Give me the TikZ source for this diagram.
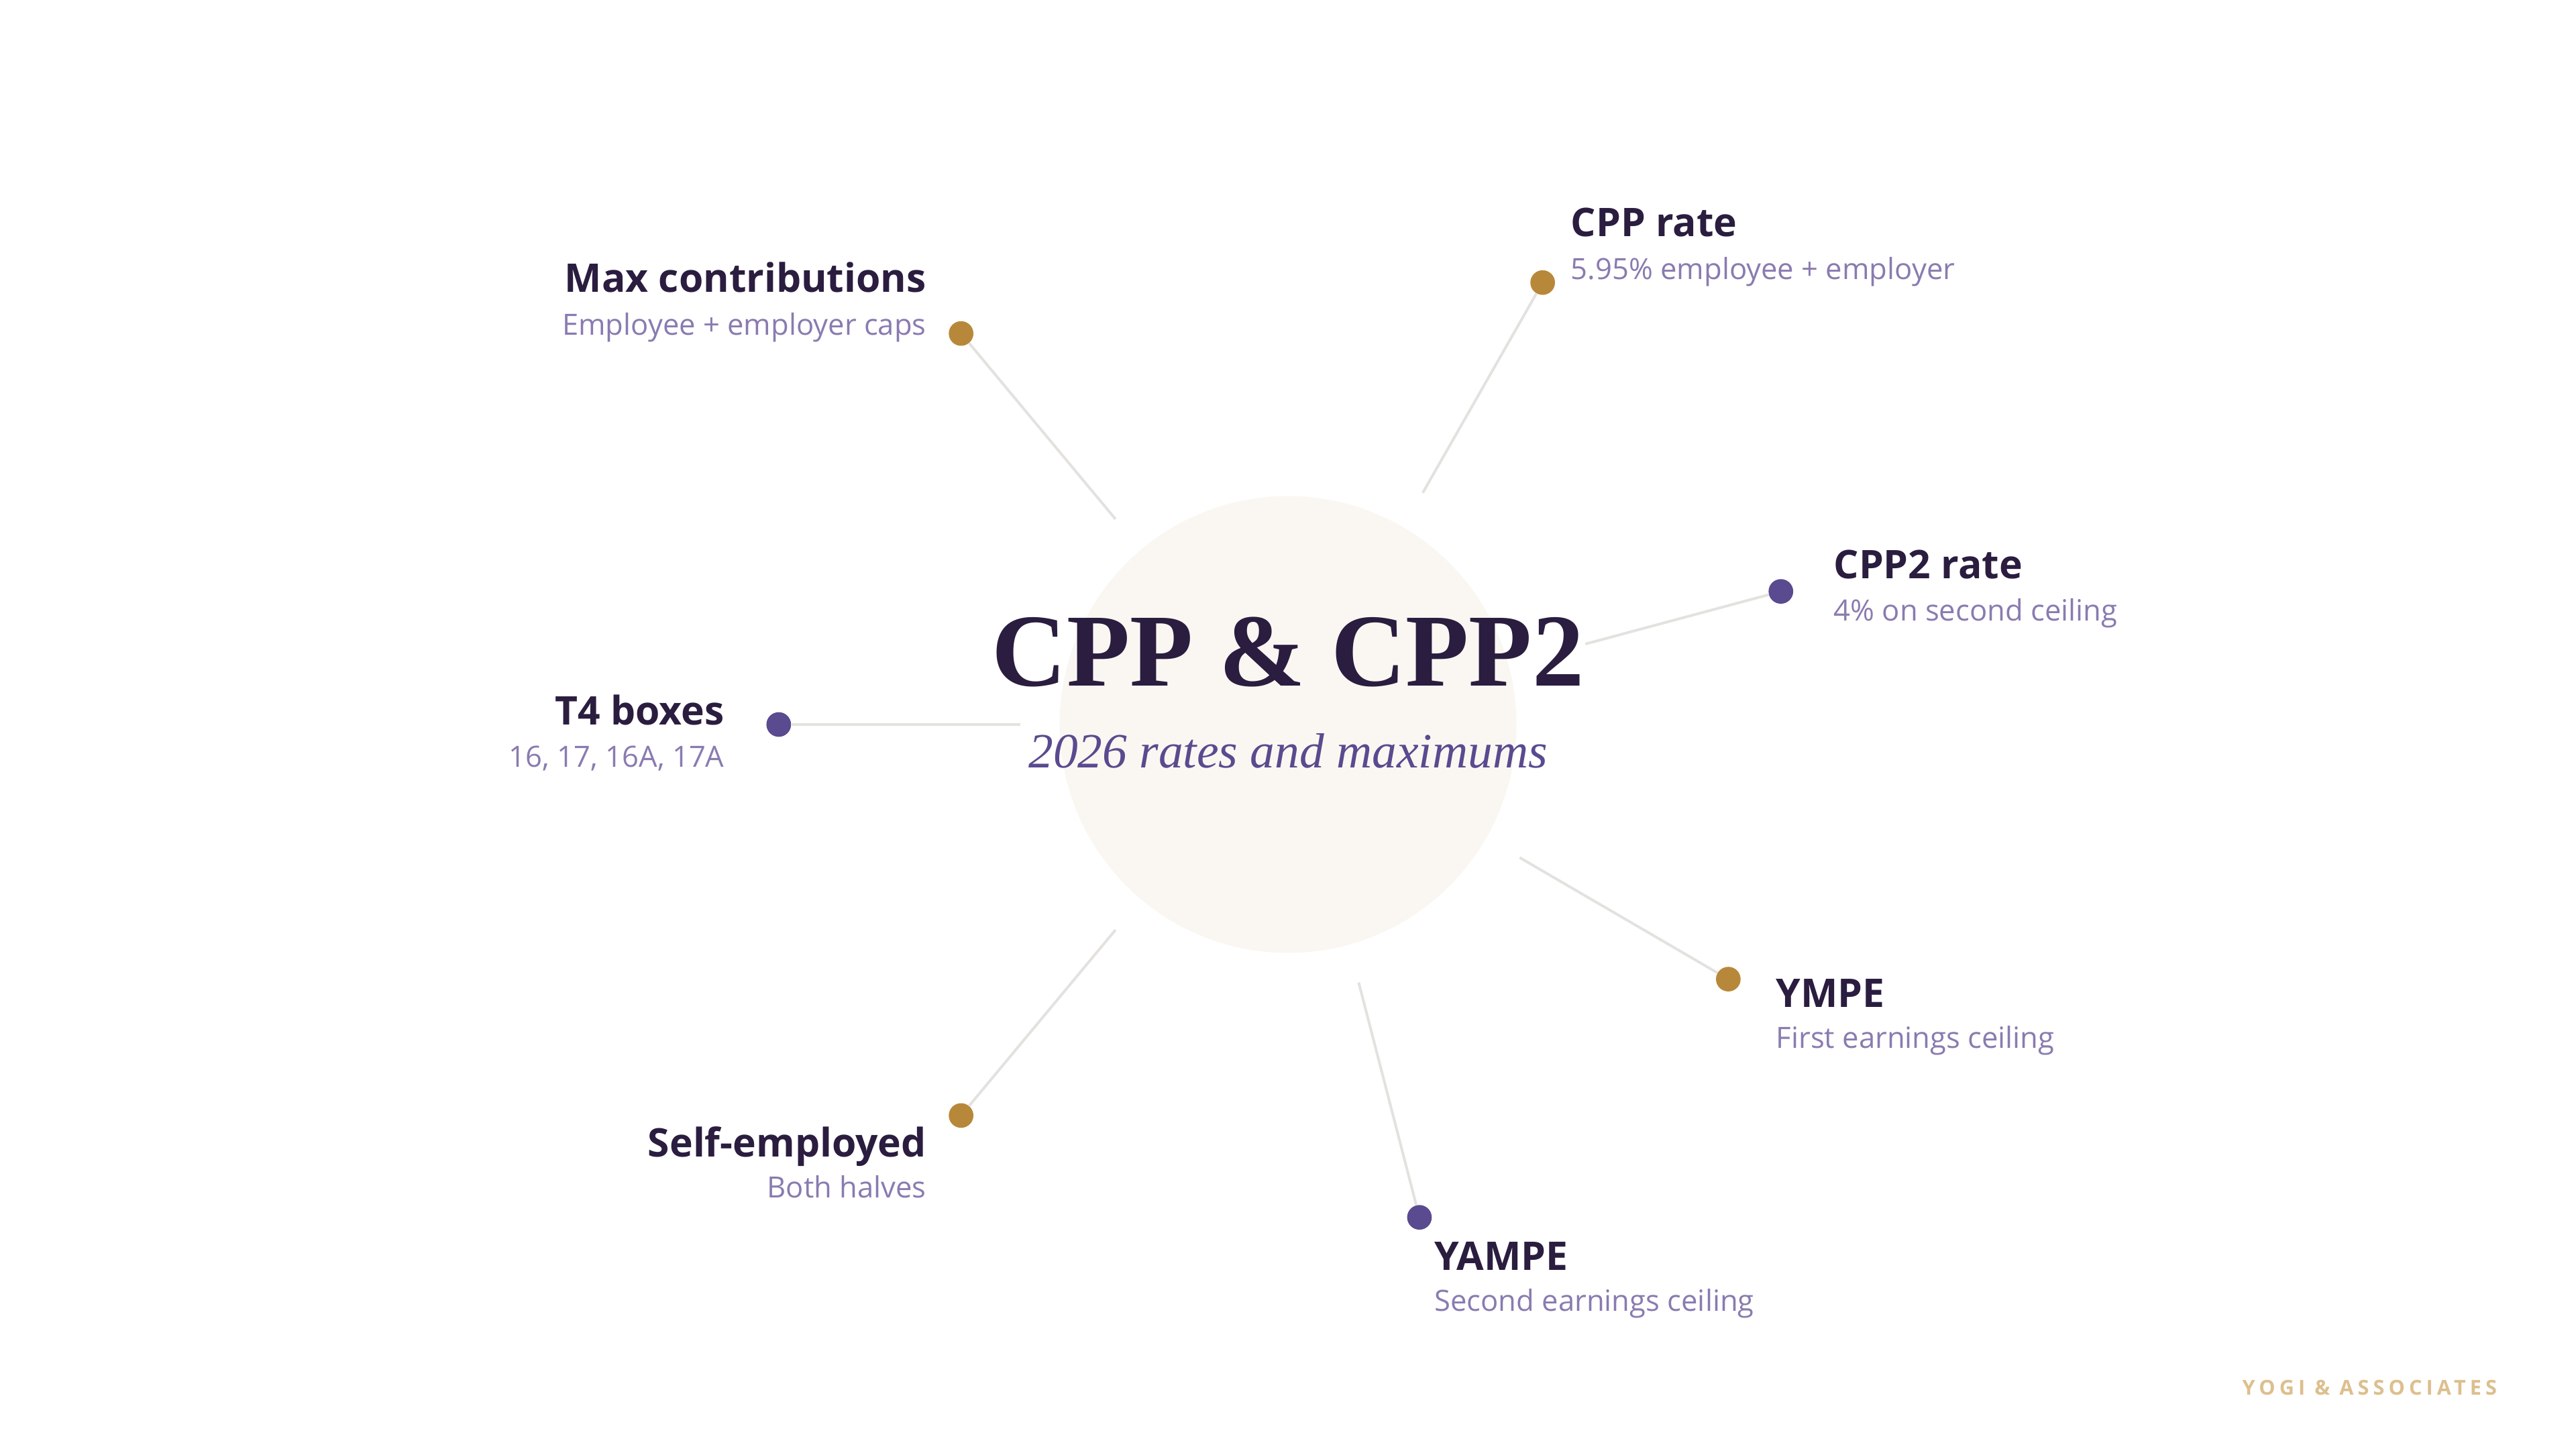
\documentclass[tikz,border=0pt]{standalone}
\usepackage{fontspec}
\setmainfont{Open Sans}
\newfontfamily\serifb{Liberation Serif}
\definecolor{ttl}{HTML}{2A1D3F}
\definecolor{subc}{HTML}{8A7BB0}
\definecolor{goldc}{HTML}{B8883A}
\definecolor{purc}{HTML}{5A4A8F}
\definecolor{linec}{HTML}{E4E2DE}
\definecolor{circc}{HTML}{FAF7F2}
\definecolor{foot}{HTML}{DDBF8E}
\begin{document}
\begin{tikzpicture}[x=1pt,y=-1pt,
  dotg/.style={circle,fill=goldc,inner sep=0,minimum size=15pt},
  dotp/.style={circle,fill=purc,inner sep=0,minimum size=15pt},
  spoke/.style={draw=linec,line width=1.6pt},
  head/.style={inner sep=0,text=ttl,font=\fontsize{24}{28}\selectfont\bfseries},
  sub/.style={inner sep=0,text=subc,font=\fontsize{17.8}{20}\selectfont}]
\useasboundingbox (0,0) rectangle (1568,882);
\fill[white] (0,0) rectangle (1568,882);
\node[circle,fill=circc,minimum size=278pt,inner sep=0] (hub) at (784,441) {};
\node[inner sep=0,text=ttl,font=\serifb\fontsize{63}{70}\selectfont\bfseries] (title) at (784,397) {CPP \& CPP2};
\node[inner sep=0,text=purc,font=\serifb\fontsize{30}{34}\selectfont\itshape] (subtitle) at (784,457) {2026 rates and maximums};
% Max contributions
\node[dotg] (d1) at (585,203) {}; \coordinate (e1) at (679,316);
\draw[spoke] (d1) -- (e1);
\node[head,anchor=base east] (h1) at (564,178) {Max contributions};
\node[sub,anchor=base east] (s1) at (564,204) {Employee + employer caps};
% CPP rate
\node[dotg] (d2) at (939,172) {}; \coordinate (e2) at (866,300);
\draw[spoke] (d2) -- (e2);
\node[head,anchor=base west] (h2) at (956,144) {CPP rate};
\node[sub,anchor=base west] (s2) at (956,170) {5.95\% employee + employer};
% CPP2 rate
\node[dotp] (d3) at (1084,360) {}; \coordinate (e3) at (965,392);
\draw[spoke] (d3) -- (e3);
\node[head,anchor=base west] (h3) at (1116,352) {CPP2 rate};
\node[sub,anchor=base west] (s3) at (1116,378) {4\% on second ceiling};
% T4 boxes
\node[dotp] (d4) at (474,441) {}; \coordinate (e4) at (621,441);
\draw[spoke] (d4) -- (e4);
\node[head,anchor=base east] (h4) at (441,441) {T4 boxes};
\node[sub,anchor=base east] (s4) at (441,467) {16, 17, 16A, 17A};
% YMPE
\node[dotg] (d5) at (1052,596) {}; \coordinate (e5) at (925,522);
\draw[spoke] (d5) -- (e5);
\node[head,anchor=base west] (h5) at (1081,613) {YMPE};
\node[sub,anchor=base west] (s5) at (1081,638) {First earnings ceiling};
% YAMPE
\node[dotp] (d6) at (864,741) {}; \coordinate (e6) at (827,598);
\draw[spoke] (d6) -- (e6);
\node[head,anchor=base west] (h6) at (873,773) {YAMPE};
\node[sub,anchor=base west] (s6) at (873,798) {Second earnings ceiling};
% Self-employed
\node[dotg] (d7) at (585,679) {}; \coordinate (e7) at (679,566);
\draw[spoke] (d7) -- (e7);
\node[head,anchor=base east] (h7) at (564,704) {Self-employed};
\node[sub,anchor=base east] (s7) at (564,729) {Both halves};
\node[inner sep=0,anchor=base east,text=foot,font=\fontsize{12.5}{14}\selectfont\bfseries\addfontfeatures{LetterSpace=20}] (ft) at (1520,849) {YOGI \& ASSOCIATES};
\end{tikzpicture}
\end{document}
